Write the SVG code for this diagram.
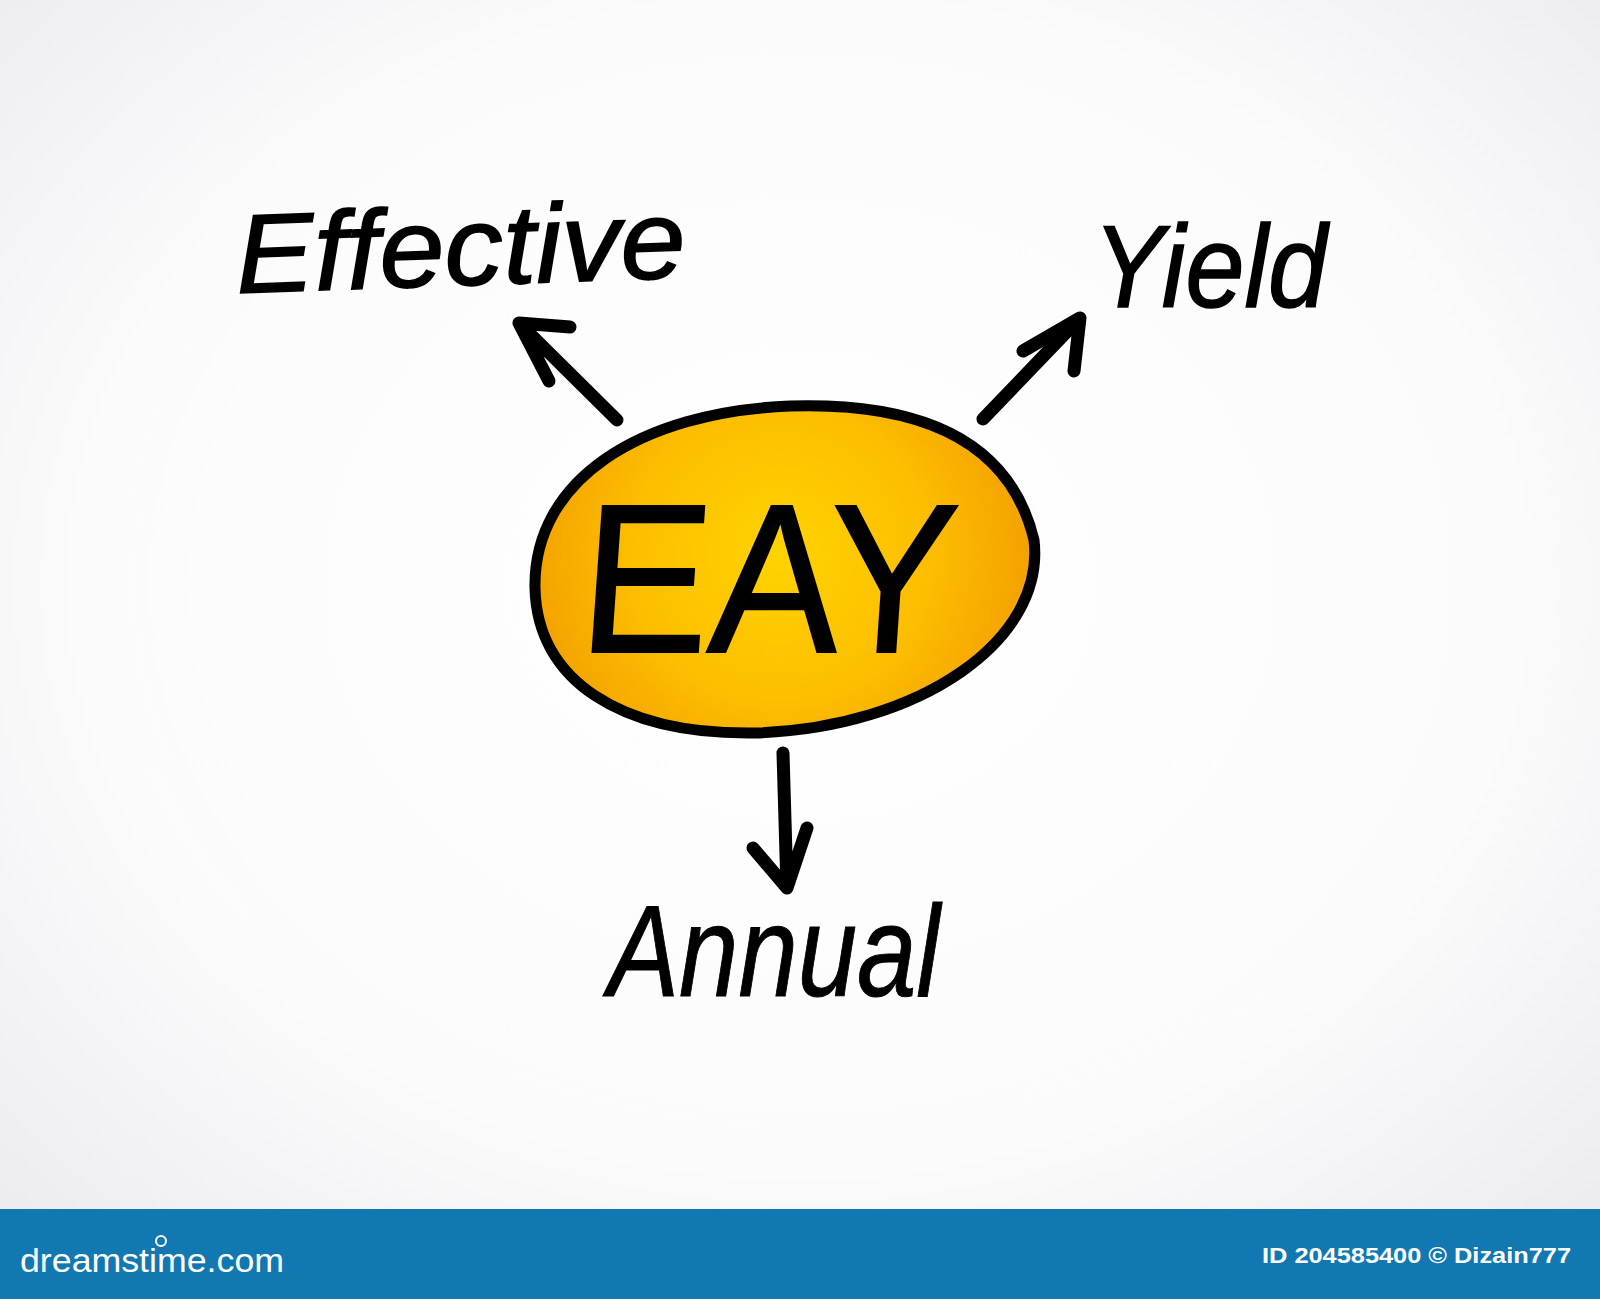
<svg xmlns="http://www.w3.org/2000/svg" width="1600" height="1299" viewBox="0 0 1600 1299">
  <defs>
    <radialGradient id="bg" cx="50%" cy="45%" r="75%">
      <stop offset="0" stop-color="#ffffff"/>
      <stop offset="0.6" stop-color="#fbfbfc"/>
      <stop offset="1" stop-color="#e9e9ec"/>
    </radialGradient>
    <radialGradient id="fillY" gradientUnits="userSpaceOnUse" cx="780" cy="555" r="270">
      <stop offset="0" stop-color="#FFD300"/>
      <stop offset="0.55" stop-color="#FDBE00"/>
      <stop offset="1" stop-color="#F29C00"/>
    </radialGradient>
    <style>
      .ink { fill: none; stroke: #000; stroke-width: 13; stroke-linecap: round; stroke-linejoin: round; }
      .hand { font-family: "Liberation Sans", Arial, sans-serif; font-style: italic; fill: #000; }
      .upright { font-style: normal; }
      .foot { font-family: "Liberation Sans", Arial, sans-serif; fill: #fff; }
    </style>
  </defs>

  <rect x="0" y="0" width="1600" height="1299" fill="url(#bg)"/>

  <g id="node-eay">
    <path d="M 535 588 C 533 480 640 412 790 406 C 920 402 1010 440 1034 540 C 1046 640 920 728 755 733 C 620 735 537 680 535 588 Z" fill="url(#fillY)" stroke="#000" stroke-width="11"/>
    <text class="hand upright" x="582" y="652" font-size="212" textLength="375" lengthAdjust="spacingAndGlyphs" stroke="#000" stroke-width="2" transform="skewX(-4) translate(40 0)">EAY</text>
  </g>

  <g id="node-effective">
    <text class="hand" x="237" y="293" font-size="112" textLength="450" lengthAdjust="spacingAndGlyphs" transform="rotate(-2 240 293)" stroke="#000" stroke-width="1.5">Effective</text>
  </g>

  <g id="node-yield">
    <text class="hand" x="1093" y="307" font-size="116" textLength="234" lengthAdjust="spacingAndGlyphs" stroke="#000" stroke-width="1.5">Yield</text>
  </g>

  <g id="node-annual">
    <text class="hand" x="608" y="996" font-size="130" textLength="332" lengthAdjust="spacingAndGlyphs" stroke="#000" stroke-width="1">Annual</text>
  </g>

  <g id="connectors">
    <path class="ink" d="M 617 420 L 519 323 M 519 323 L 570 327 M 519 323 L 549 381"/>
    <path class="ink" d="M 983 419 L 1080 318 M 1080 318 L 1023 351 M 1080 318 L 1074 371"/>
    <path class="ink" d="M 783 753 L 787 888 M 787 888 L 753 848 M 787 888 L 807 828"/>
  </g>

  <g id="footer">
    <rect x="0" y="1209" width="1600" height="90" fill="#1178B1"/>
    <text class="foot" x="20" y="1272" font-size="34" textLength="264" lengthAdjust="spacingAndGlyphs">dreamstime.com</text>
    <circle cx="161" cy="1241" r="5" fill="none" stroke="#fff" stroke-width="2"/>
    <text class="foot" x="1262" y="1263" font-size="22" font-weight="bold" textLength="309" lengthAdjust="spacingAndGlyphs">ID 204585400 © Dizain777</text>
  </g>
</svg>
